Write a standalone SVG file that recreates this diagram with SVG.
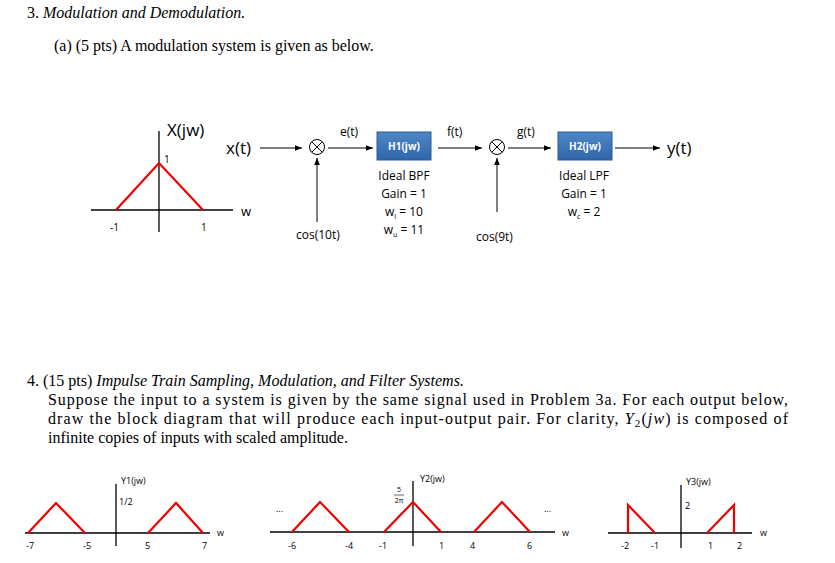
<svg xmlns="http://www.w3.org/2000/svg" width="835" height="563" viewBox="0 0 835 563">
<defs>
<marker id="ah" viewBox="0 0 10 10" refX="10" refY="5" markerWidth="7" markerHeight="7" orient="auto"><path d="M0,1 L10,5 L0,9 z" fill="#000"/></marker>
<linearGradient id="bg" x1="0" y1="0" x2="0" y2="1"><stop offset="0" stop-color="#4f86c6"/><stop offset="1" stop-color="#2f66aa"/></linearGradient>
</defs>
<style>
.s{font-family:"Liberation Serif",serif;font-size:16px;fill:#000}
.f{font-family:"Open Sans","Liberation Sans",sans-serif;fill:#000}
.ax{stroke:#000;stroke-width:1.3;fill:none}
.r{stroke:#e00;stroke-width:2.2;fill:none}
.c{stroke:#000;stroke-width:1;fill:none;marker-end:url(#ah)}
.box{fill:url(#bg);stroke:#2a5a95}
</style>
<rect width="835" height="563" fill="#fff"/>
<text class="s" x="27" y="18">3. <tspan font-style="italic">Modulation and Demodulation.</tspan></text>
<text class="s" x="54" y="51">(a)  (5 pts) A modulation system is given as below.</text>
<text class="s" x="27" y="386">4. (15 pts) <tspan font-style="italic">Impulse Train Sampling, Modulation, and Filter Systems.</tspan></text>
<text class="s" x="48" y="405" textLength="740" lengthAdjust="spacing">Suppose the input to a system is given by the same signal used in Problem 3a. For each output below,</text>
<text class="s" x="48" y="424" textLength="740" lengthAdjust="spacing">draw the block diagram that will produce each input-output pair. For clarity, <tspan font-style="italic">Y</tspan><tspan font-size="11" dy="3">2</tspan><tspan dy="-3">(<tspan font-style="italic">jw</tspan>) is composed of</tspan></text>
<text class="s" x="48" y="443">infinite copies of inputs with scaled amplitude.</text>

<g id="plotX">
<line class="ax" x1="91" y1="210" x2="233" y2="210"/>
<line class="ax" x1="159" y1="131" x2="159" y2="232"/>
<polyline class="r" points="116,210 159,163 203,210"/>
<text class="f" x="167" y="136" font-size="17">X(jw)</text>
<text class="f" x="164" y="163" font-size="10">1</text>
<text class="f" x="110" y="231" font-size="10">-1</text>
<text class="f" x="201" y="231" font-size="10">1</text>
<text class="f" x="241" y="216" font-size="13">w</text>
</g>

<g id="connectors">
<line class="c" x1="260" y1="148" x2="302" y2="148"/>
<line class="c" x1="328" y1="148" x2="373" y2="148"/>
<line class="c" x1="317" y1="222" x2="317" y2="158"/>
<line class="c" x1="438" y1="148" x2="482" y2="148"/>
<line class="c" x1="508" y1="148" x2="551" y2="148"/>
<line class="c" x1="497" y1="212" x2="497" y2="158"/>
<line class="c" x1="615" y1="148" x2="660" y2="148"/>
</g>

<g id="xt"><text class="f" x="226" y="154" font-size="17">x(t)</text></g>
<g id="mult1"><circle cx="317" cy="147" r="7.5" fill="#fff" stroke="#000"/><path d="M311.7,141.7 L322.3,152.3 M322.3,141.7 L311.7,152.3" stroke="#000"/></g>
<g id="cos10"><text class="f" x="296" y="239" font-size="12">cos(10t)</text></g>
<g id="et"><text class="f" x="340" y="136" font-size="12">e(t)</text></g>
<g id="H1">
<rect class="box" x="377" y="132" width="54" height="28"/>
<text class="f" x="404" y="150" font-size="10" font-weight="bold" fill="#fff" text-anchor="middle" style="fill:#fff">H1(jw)</text>
<text class="f" x="404" y="180" font-size="12" text-anchor="middle">Ideal BPF</text>
<text class="f" x="404" y="198" font-size="12" text-anchor="middle">Gain = 1</text>
<text class="f" x="404" y="216" font-size="12" text-anchor="middle">w<tspan font-size="7" dy="3">l</tspan><tspan dy="-3"> = 10</tspan></text>
<text class="f" x="404" y="234" font-size="12" text-anchor="middle">w<tspan font-size="7" dy="3">u</tspan><tspan dy="-3"> = 11</tspan></text>
</g>
<g id="ft"><text class="f" x="447" y="136" font-size="12">f(t)</text></g>
<g id="mult2"><circle cx="497" cy="147" r="7.5" fill="#fff" stroke="#000"/><path d="M491.7,141.7 L502.3,152.3 M502.3,141.7 L491.7,152.3" stroke="#000"/></g>
<g id="cos9"><text class="f" x="476" y="241" font-size="12">cos(9t)</text></g>
<g id="gt"><text class="f" x="517" y="136" font-size="12">g(t)</text></g>
<g id="H2">
<rect class="box" x="558" y="132" width="54" height="28"/>
<text class="f" x="585" y="150" font-size="10" font-weight="bold" text-anchor="middle" style="fill:#fff">H2(jw)</text>
<text class="f" x="584" y="180" font-size="12" text-anchor="middle">Ideal LPF</text>
<text class="f" x="584" y="198" font-size="12" text-anchor="middle">Gain = 1</text>
<text class="f" x="584" y="216" font-size="12" text-anchor="middle">w<tspan font-size="7" dy="3">c</tspan><tspan dy="-3"> = 2</tspan></text>
</g>
<g id="yt"><text class="f" x="667" y="154" font-size="17">y(t)</text></g>

<g id="plotY1">
<line class="ax" x1="25" y1="533" x2="210" y2="533"/>
<line class="ax" x1="116" y1="484" x2="116" y2="546"/>
<polyline class="r" points="28,533 56,503 85,533"/>
<polyline class="r" points="148,533 176,503 203,533"/>
<text class="f" x="121" y="484" font-size="9">Y1(jw)</text>
<text class="f" x="119" y="505" font-size="9">1/2</text>
<text class="f" x="217" y="536" font-size="9">w</text>
<text class="f" x="26" y="549" font-size="9">-7</text>
<text class="f" x="83" y="549" font-size="9">-5</text>
<text class="f" x="145" y="549" font-size="9">5</text>
<text class="f" x="202" y="549" font-size="9">7</text>
</g>

<g id="plotY2">
<line class="ax" x1="270" y1="532" x2="555" y2="532"/>
<line class="ax" x1="413" y1="481" x2="413" y2="546"/>
<polyline class="r" points="292,532 320,502 349,532"/>
<polyline class="r" points="384,532 413,502 441,532"/>
<polyline class="r" points="474,532 502,502 530,532"/>
<text class="f" x="276" y="512" font-size="9">...</text>
<text class="f" x="544" y="512" font-size="9">...</text>
<text class="f" x="420" y="482" font-size="9">Y2(jw)</text>
<text class="f" x="399" y="492" font-size="7" text-anchor="middle">5</text>
<line x1="394" y1="495" x2="404" y2="495" stroke="#000" stroke-width="0.6"/>
<text class="f" x="399" y="503" font-size="7" text-anchor="middle">2π</text>
<text class="f" x="562" y="536" font-size="9">w</text>
<text class="f" x="288" y="549" font-size="9">-6</text>
<text class="f" x="345" y="549" font-size="9">-4</text>
<text class="f" x="379" y="549" font-size="9">-1</text>
<text class="f" x="439" y="549" font-size="9">1</text>
<text class="f" x="470" y="549" font-size="9">4</text>
<text class="f" x="527" y="549" font-size="9">6</text>
</g>

<g id="plotY3">
<line class="ax" x1="608" y1="533" x2="752" y2="533"/>
<line class="ax" x1="681" y1="485" x2="681" y2="548"/>
<polyline class="r" points="628,533 628,505 655,533"/>
<polyline class="r" points="707,533 734,505 734,533"/>
<text class="f" x="686" y="485" font-size="9">Y3(jw)</text>
<text class="f" x="685" y="509" font-size="9">2</text>
<text class="f" x="760" y="536" font-size="9">w</text>
<text class="f" x="621" y="549" font-size="9">-2</text>
<text class="f" x="651" y="549" font-size="9">-1</text>
<text class="f" x="708" y="549" font-size="9">1</text>
<text class="f" x="737" y="549" font-size="9">2</text>
</g>
</svg>
